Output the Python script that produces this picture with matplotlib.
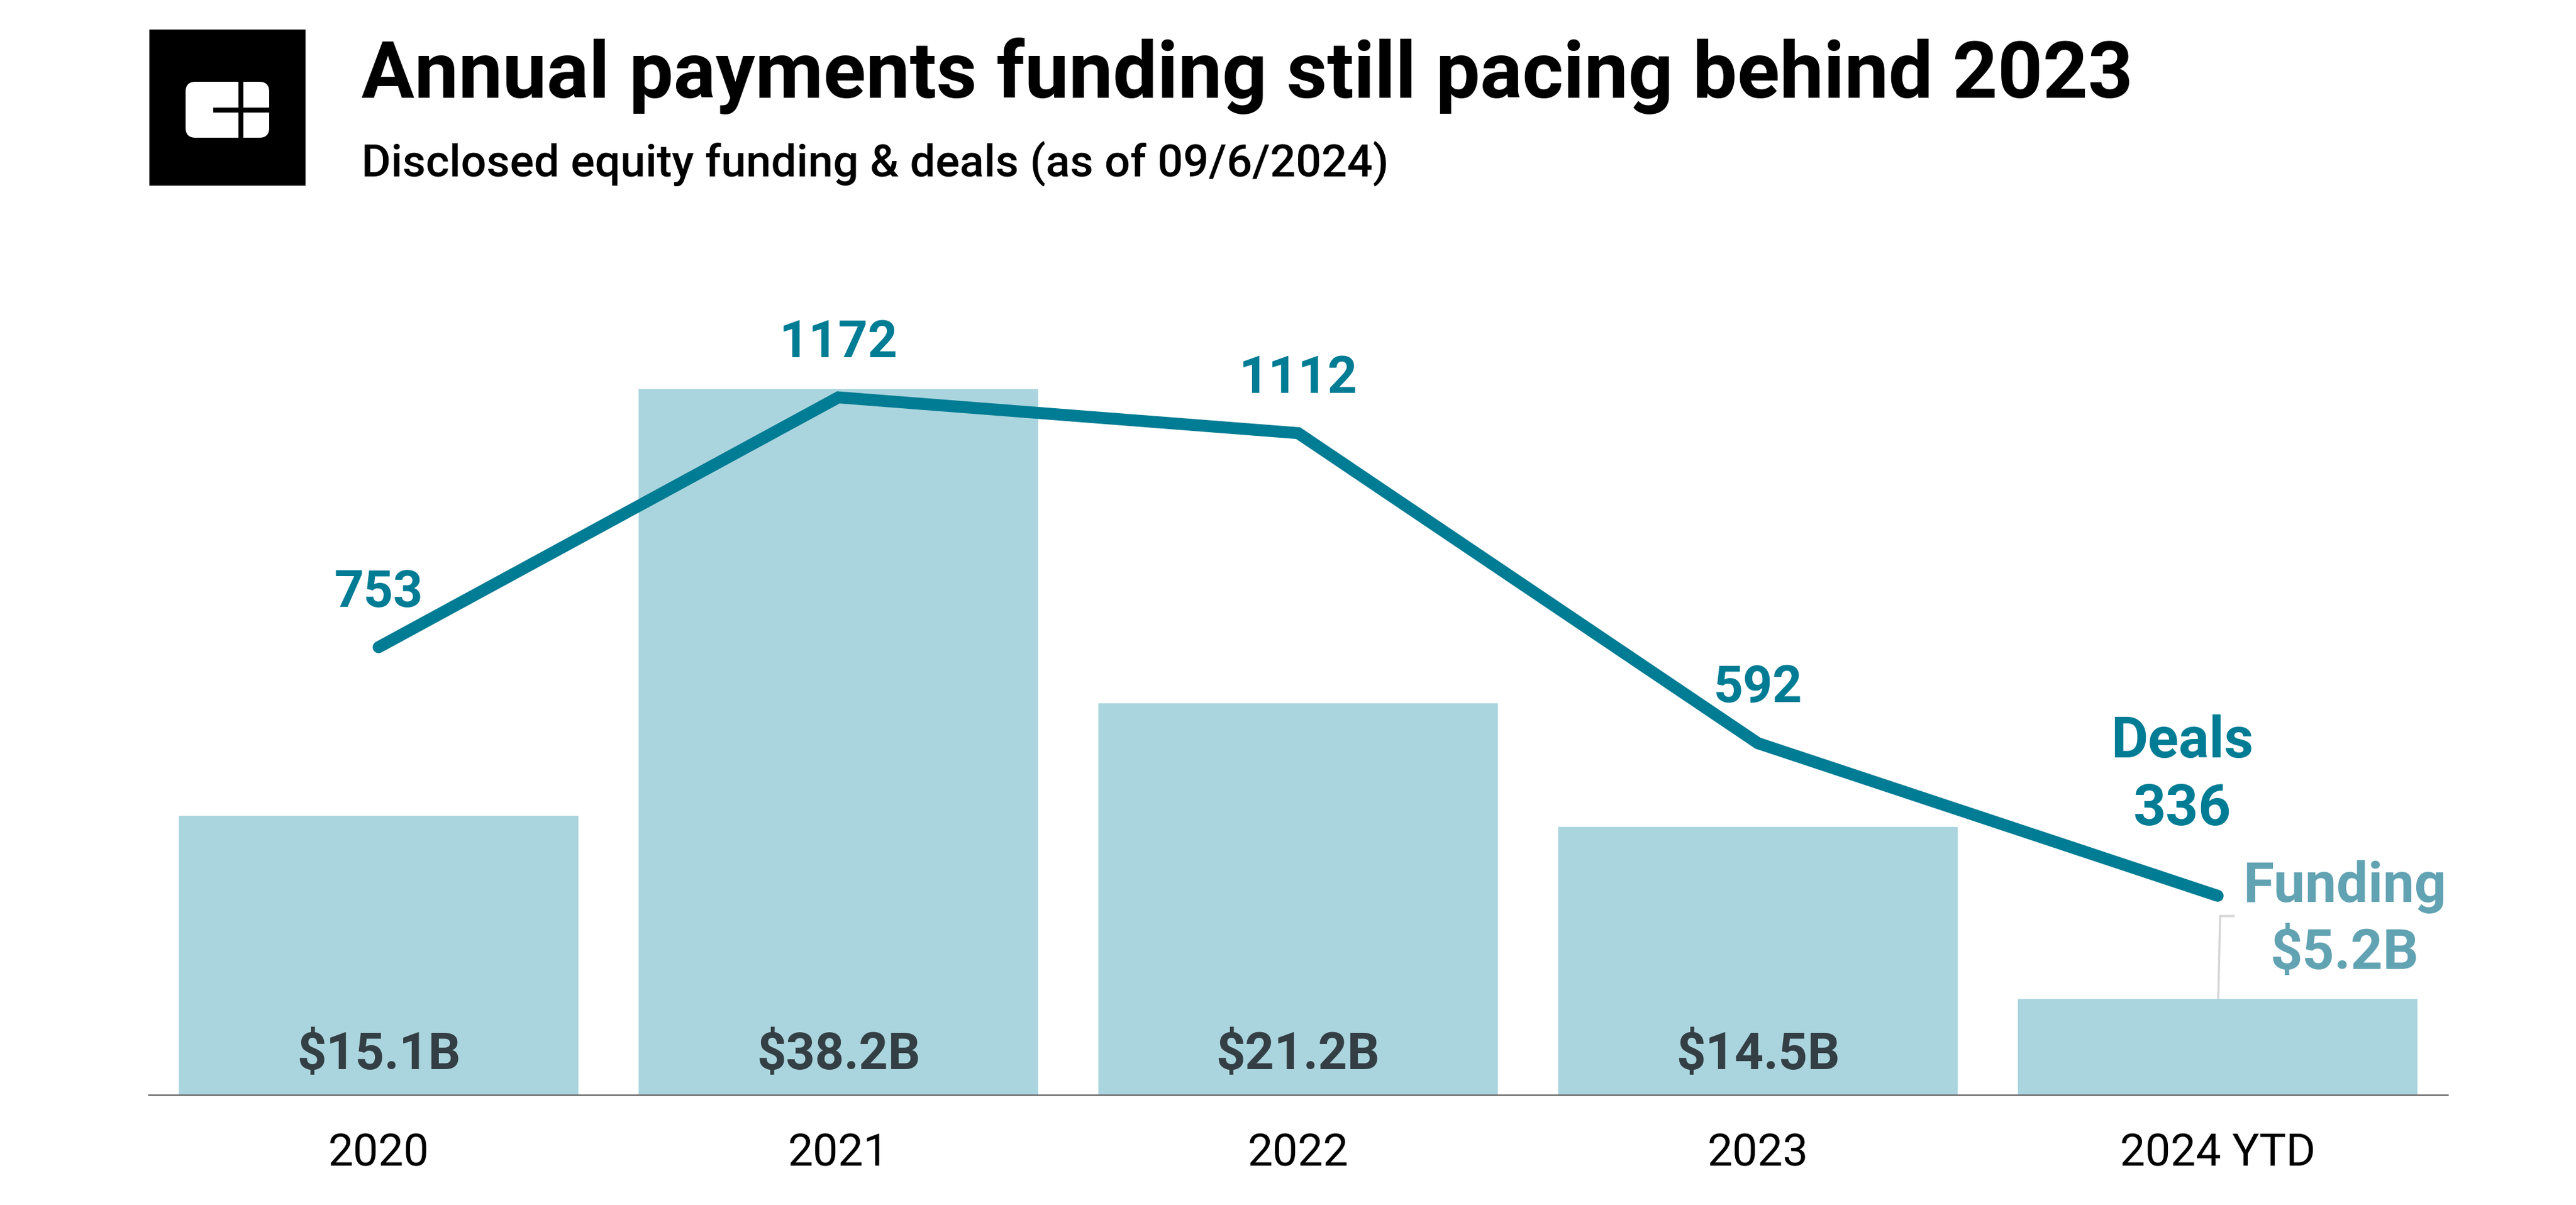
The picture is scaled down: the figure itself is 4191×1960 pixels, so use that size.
import matplotlib
matplotlib.use("Agg")
import matplotlib.pyplot as plt
from matplotlib.patches import FancyBboxPatch, Rectangle

categories = ["2020", "2021", "2022", "2023", "2024 YTD"]
funding = [15.1, 38.2, 21.2, 14.5, 5.2]
deals = [753, 1172, 1112, 592, 336]
funding_labels = ["$15.1B", "$38.2B", "$21.2B", "$14.5B"]
title = "Annual payments funding still pacing behind 2023"
subtitle = "Disclosed equity funding & deals (as of 09/6/2024)"

W, H = 4191, 1960
BAR = "#ABD5DE"
LINE = "#007C94"
FUND = "#62A3B3"
DARK = "#333F44"
plt.rcParams["font.family"] = ["Roboto", "DejaVu Sans"]

fig = plt.figure(figsize=(W / 100, H / 100), dpi=100, facecolor="white")
ov = fig.add_axes([0, 0, 1, 1], zorder=0)
ov.set_xlim(0, W); ov.set_ylim(H, 0); ov.axis("off")

ax_left, ax_right, ax_bottom, ax_top = 242, 3982, 1781, 430
ax = fig.add_axes([ax_left / W, 1 - ax_bottom / H, (ax_right - ax_left) / W, (ax_bottom - ax_top) / H], zorder=1)
ax.patch.set_alpha(0)
px_per_b = 30.05
px_per_deal = 0.9698
ax.set_xlim(-0.5, 4.5)
ax.set_ylim(0, (ax_bottom - ax_top) / px_per_b)
ax2 = ax.twinx()
ax2.patch.set_alpha(0)
ax2.set_ylim(2, 2 + (ax_bottom - ax_top) / px_per_deal)

x = list(range(len(categories)))
ax.bar(x, funding, width=0.868, color=BAR, linewidth=0)
ax2.plot(x, deals, color=LINE, lw=14, solid_capstyle="round", solid_joinstyle="miter")

for a in (ax, ax2):
    for s in ("top", "left", "right"):
        a.spines[s].set_visible(False)
    a.set_yticks([])
ax2.spines["bottom"].set_visible(False)
ax.spines["bottom"].set_color("#777777")
ax.spines["bottom"].set_linewidth(2.0)
ax.set_xticks(x)
ax.set_xticklabels(categories, fontsize=52.7, color="black")
ax.tick_params(axis="x", length=0, pad=44)

for xi, lab in zip(x, funding_labels):
    ax.annotate(lab, (xi, 0), xytext=(0, 18), textcoords="offset points", ha="center", va="bottom",
                fontsize=59.5, fontweight="bold", color=DARK)

off = [35, 35, 35, 36]
for xi, d, o in zip(x[:4], deals[:4], off):
    ax2.annotate(str(d), (xi, d), xytext=(0, o), textcoords="offset points", ha="center", va="bottom",
                 fontsize=60.6, fontweight="bold", color=LINE)

ov.text(3550, 1206, "Deals", ha="center", va="center", fontsize=66.7, fontweight="bold", color=LINE)
ov.text(3550, 1316, str(deals[4]), ha="center", va="center", fontsize=66.7, fontweight="bold", color=LINE)
ov.text(3815, 1442, "Funding", ha="center", va="center", fontsize=65.7, fontweight="bold", color=FUND)
ov.text(3815, 1551, "$5.2B", ha="center", va="center", fontsize=65.7, fontweight="bold", color=FUND)
ov.plot([3609, 3612, 3634], [1625, 1490, 1490], color="#D6D6D6", lw=2.5, solid_joinstyle="miter")

# logo
ov.add_patch(Rectangle((243, 48), 254, 254, color="black", lw=0))
ov.add_patch(FancyBboxPatch((318, 149), 104, 59, boxstyle="round,pad=16,rounding_size=16", fc="white", ec="none"))
ov.add_patch(Rectangle((388, 130), 8, 98, color="black", lw=0))
ov.add_patch(Rectangle((347, 175), 95, 8, color="black", lw=0))

ov.text(588, 124, title, ha="left", va="center", fontsize=92.2, fontweight="bold", color="black")
ov.text(588, 267, subtitle, ha="left", va="center", fontsize=52.8, fontweight="medium", color="black")

fig.savefig("out.png", dpi=100, facecolor="white")
